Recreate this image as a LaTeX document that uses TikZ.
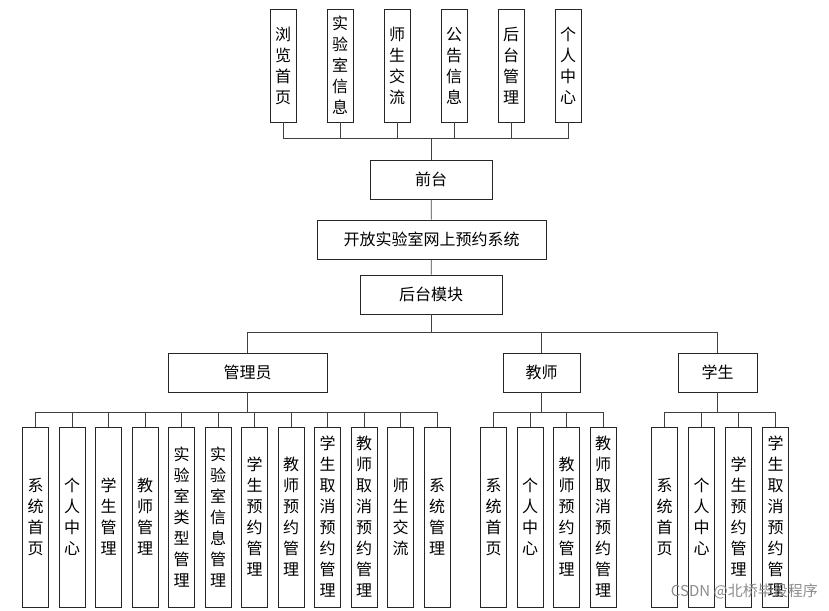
\documentclass[tikz,border=0pt]{standalone}
\usepackage{fontspec}
\newfontfamily\cjk{Noto Sans CJK SC}
\begin{document}
\begin{tikzpicture}[x=1pt,y=-1pt,
 box/.style={draw=black!85,line width=0.8pt,fill=white,inner sep=0pt,font=\cjk\fontsize{16}{21}\selectfont,align=center},
 ln/.style={draw=black!75,line width=0.8pt}]
\useasboundingbox (0,0) rectangle (829,610);
% top
\foreach \n/\x/\t in {t1/283/浏\\览\\首\\页,t2/340/实\\验\\室\\信\\息,t3/397/师\\生\\交\\流,t4/454/公\\告\\信\\息,t5/511/后\\台\\管\\理,t6/568/个\\人\\中\\心}
 {\node[box,minimum width=26pt,minimum height=113pt] (\n) at (\x,65.5) {\t};}
\node[box,minimum width=122pt,minimum height=39pt] (qt) at (431,179.5) {前台};
\node[box,minimum width=229pt,minimum height=39pt] (sys) at (431.5,239.5) {开放实验室网上预约系统};
\node[box,minimum width=142pt,minimum height=39pt] (ht) at (431,294.5) {后台模块};
\coordinate (b1) at (431,138);
\foreach \n in {t1,t2,t3,t4,t5,t6} \draw[ln] (\n.south) |- (b1);
\draw[ln] (b1) -- (qt.north);
\draw[ln] (qt) -- (sys);
\draw[ln] (sys) -- (ht);
\node[box,minimum width=159pt,minimum height=39pt] (gl) at (247.5,372.5) {管理员};
\node[box,minimum width=77pt,minimum height=39pt] (js) at (541.5,372.5) {教师};
\node[box,minimum width=79pt,minimum height=39pt] (xs) at (717.5,372.5) {学生};
\coordinate (b2) at (431,332);
\draw[ln] (ht.south) -- (b2);
\foreach \n in {gl,js,xs} \draw[ln] (b2) -| (\n.north);
% admin children
\foreach \n/\x/\t in {a1/35.5/系\\统\\首\\页,a2/72/个\\人\\中\\心,a3/108.5/学\\生\\管\\理,a4/145/教\\师\\管\\理,a5/181.5/实\\验\\室\\类\\型\\管\\理,a6/218/实\\验\\室\\信\\息\\管\\理,a7/254.5/学\\生\\预\\约\\管\\理,a8/291/教\\师\\预\\约\\管\\理,a9/327.5/学\\生\\取\\消\\预\\约\\管\\理,a10/364/教\\师\\取\\消\\预\\约\\管\\理,a11/400.5/师\\生\\交\\流,a12/437/系\\统\\管\\理}
 {\node[box,minimum width=26pt,minimum height=180pt] (\n) at (\x,517) {\t};}
\coordinate (g2) at (247.5,412);
\draw[ln] (gl.south) -- (g2);
\foreach \n in {a1,a2,a3,a4,a5,a6,a7,a8,a9,a10,a11,a12} \draw[ln] (g2) -| (\n.north);
\foreach \n/\x/\t in {j1/493.5/系\\统\\首\\页,j2/530/个\\人\\中\\心,j3/566.5/教\\师\\预\\约\\管\\理,j4/603/教\\师\\取\\消\\预\\约\\管\\理}
 {\node[box,minimum width=26pt,minimum height=180pt] (\n) at (\x,517) {\t};}
\coordinate (g3) at (541.5,412);
\draw[ln] (js.south) -- (g3);
\foreach \n in {j1,j2,j3,j4} \draw[ln] (g3) -| (\n.north);
\foreach \n/\x/\t in {s1/664.5/系\\统\\首\\页,s2/701.5/个\\人\\中\\心,s3/738.5/学\\生\\预\\约\\管\\理,s4/775.5/学\\生\\取\\消\\预\\约\\管\\理}
 {\node[box,minimum width=26pt,minimum height=180pt] (\n) at (\x,517) {\t};}
\coordinate (g4) at (717.5,412);
\draw[ln] (xs.south) -- (g4);
\foreach \n in {s1,s2,s3,s4} \draw[ln] (g4) -| (\n.north);
\node[font=\cjk\fontsize{15}{17}\selectfont,text=black!45,anchor=east,inner sep=0pt] (wm) at (818,591) {CSDN @北桥毕设程序};
\end{tikzpicture}
\end{document}
